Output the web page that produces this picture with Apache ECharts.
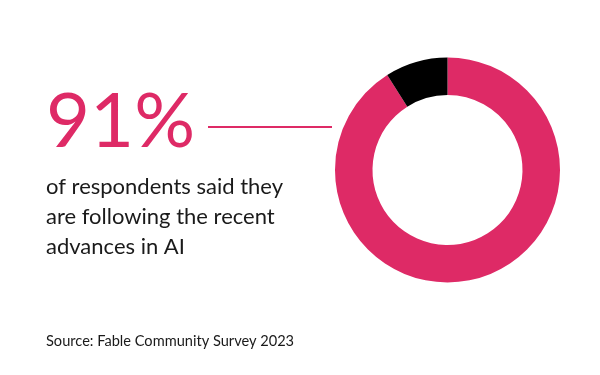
<!DOCTYPE html>
<html>
<head>
<meta charset="utf-8">
<script src="https://cdn.jsdelivr.net/npm/echarts@6/dist/echarts.min.js"></script>
<style>html,body{margin:0;padding:0;background:#fff}#c{width:600px;height:375px}</style>
</head>
<body>
<div id="c"></div>
<script>
var categories = ["Following recent AI advances", "Not following"];
var values = [91, 9];
var colors = ["#DE2A66", "#000000"];
var headline = "91%";
var descLines = ["of respondents said they", "are following the recent", "advances in AI"];
var source = "Source: Fable Community Survey 2023";

var chart = echarts.init(document.getElementById('c'));
var FONT = 'Lato';
var g = [
  { type: 'text', left: 46, top: 84, style: { text: headline, fill: colors[0], font: 'normal 76px ' + FONT } },
  { type: 'line', shape: { x1: 208, y1: 127, x2: 332, y2: 127 }, style: { stroke: colors[0], lineWidth: 2 } }
];
descLines.forEach(function (t, i) {
  g.push({ type: 'text', left: 46, top: 176 + i * 30, style: { text: t, fill: '#1a1a1a', font: 'normal 22px ' + FONT } });
});
g.push({ type: 'text', left: 46, top: 334, style: { text: source, fill: '#1a1a1a', font: 'normal 14.6px ' + FONT } });

chart.setOption({
  animation: false,
  graphic: g,
  series: [{
    type: 'pie',
    center: [447.5, 170],
    radius: [75, 112.5],
    startAngle: 90,
    clockwise: true,
    label: { show: false },
    labelLine: { show: false },
    emphasis: { disabled: true },
    itemStyle: { borderWidth: 0 },
    data: categories.map(function (c, i) { return { name: c, value: values[i], itemStyle: { color: colors[i] } }; })
  }]
});
</script>
</body>
</html>
